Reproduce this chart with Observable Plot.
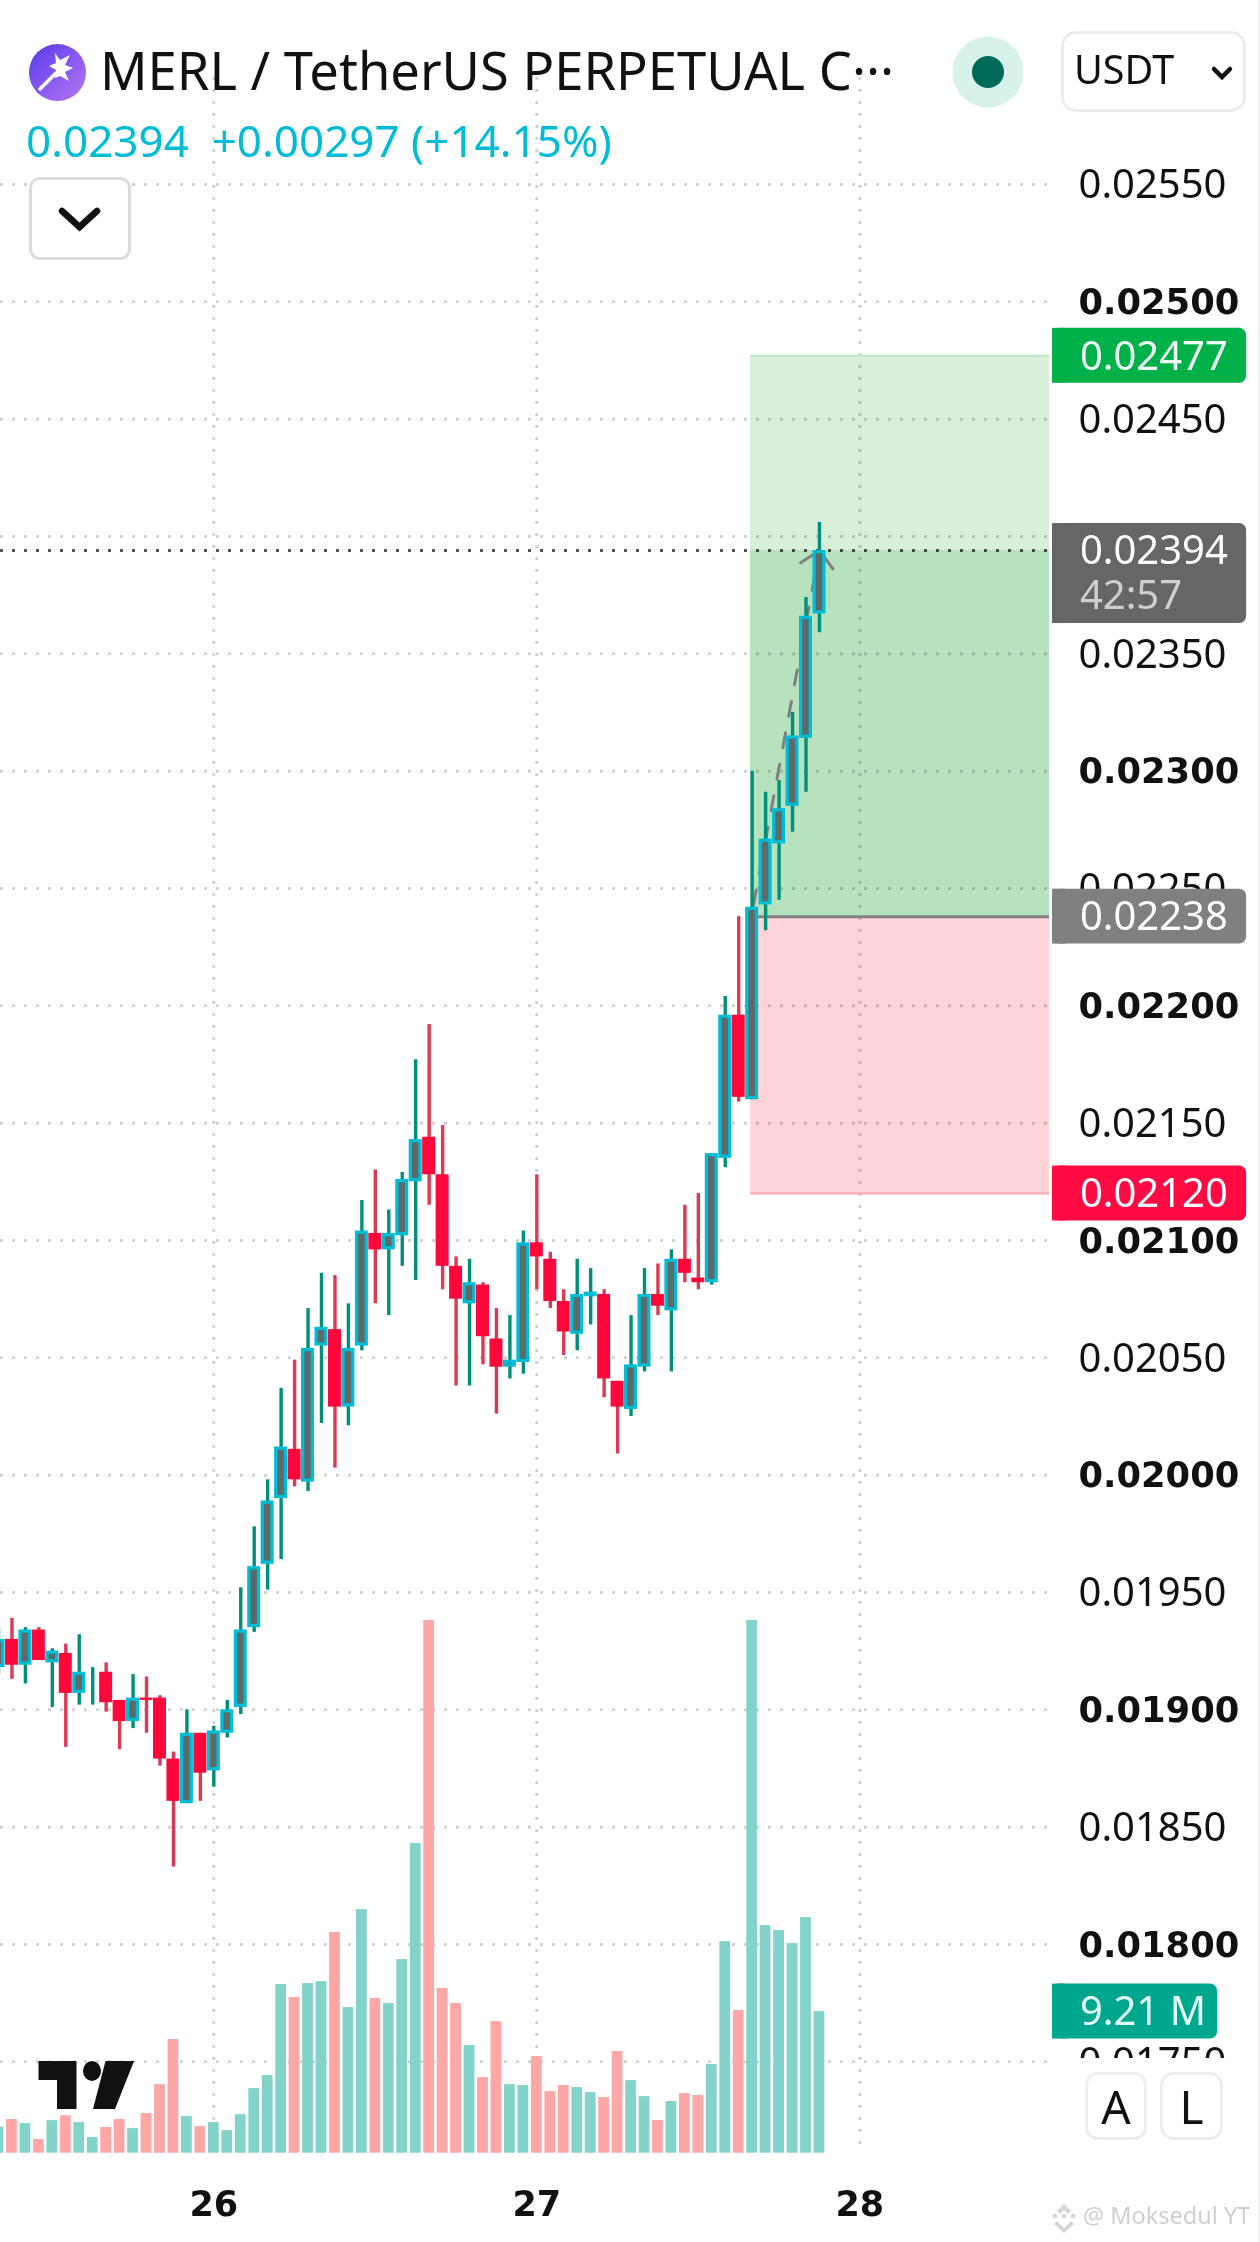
<!DOCTYPE html>
<html>
<head>
<meta charset="utf-8">
<script src="https://cdn.jsdelivr.net/npm/d3@7"></script>
<script src="https://cdn.jsdelivr.net/npm/@observablehq/plot@0.6"></script>
<style>
html,body{margin:0;padding:0;background:#fff}
#page{position:relative;width:1260px;height:2242px;overflow:hidden;font-family:"Noto Sans",sans-serif;color:#111}
#chart svg{display:block}
.box{position:absolute;background:#fff;box-sizing:border-box}
.t{position:absolute;white-space:pre;line-height:1}
</style>
</head>
<body>
<div id="page">
<div id="chart"></div>
<div class="box" style="left:1052px;top:2058px;width:206px;height:60px"></div>
<div style="position:absolute;right:0;top:0;width:2px;height:2242px;background:#f1f1f1"></div>

<svg class="box" style="left:27px;top:42px;background:none" width="62" height="62" viewBox="0 0 62 62">
<defs><linearGradient id="lg" x1="0.1" y1="0.1" x2="0.9" y2="0.9"><stop offset="0" stop-color="#5f3fe8"/><stop offset="1" stop-color="#ad72f5"/></linearGradient></defs>
<circle cx="30.5" cy="30.5" r="28.5" fill="url(#lg)"/>
<path d="M13 47 L29 31" stroke="#fff" stroke-width="3.5" stroke-linecap="round"/>
<path d="M28 11 L33 18 L43 13 L38 23 L46 26 L38 30 L42 39 L33 34 L28 36 L29 28 L22 24 L29 21 Z" fill="#fff"/>
</svg>
<div class="t" id="title" style="left:100px;top:44px;font-size:52.5px">MERL / TetherUS PERPETUAL C···</div>
<div class="t" id="quote" style="left:26px;top:118px;font-size:44px;color:#00bcd4">0.02394  +0.00297 (+14.15%)</div>

<div class="box" style="left:29px;top:177px;width:102px;height:83px;border:3.5px solid #dcdcdc;border-radius:11px"></div>
<svg class="box" style="left:55px;top:204px;background:none" width="50" height="30" viewBox="0 0 50 30"><path d="M7 7 L24.5 23 L42 7" fill="none" stroke="#111" stroke-width="6.5" stroke-linecap="round"/></svg>

<svg class="box" style="left:950px;top:34px;background:none" width="76" height="76" viewBox="0 0 76 76"><circle cx="38" cy="38" r="35.5" fill="#d6f2eb"/><circle cx="38" cy="38" r="16" fill="#00695a"/></svg>

<div class="box" style="left:1061px;top:31px;width:185px;height:81px;border:3.5px solid #ececec;border-radius:15px"></div>
<div class="t" style="left:1074px;top:50px;font-size:39.5px">USDT</div>
<svg class="box" style="left:1208px;top:62px;background:none" width="30" height="22" viewBox="0 0 30 22"><path d="M6 7 L14 15 L22 7" fill="none" stroke="#111" stroke-width="4.5" stroke-linecap="round"/></svg>

<div class="box" style="left:1085px;top:2072px;width:62px;height:68px;border:3px solid #eee;border-radius:13px"></div>
<div class="box" style="left:1160px;top:2072px;width:63px;height:68px;border:3px solid #eee;border-radius:13px"></div>
<div class="t" style="left:1085px;width:62px;text-align:center;top:2083px;font-size:46px">A</div>
<div class="t" style="left:1160px;width:63px;text-align:center;top:2083px;font-size:46px">L</div>

<svg class="box" style="left:38px;top:2061px;background:none" width="97" height="49" viewBox="0 0 97 49">
<path d="M0.5 0 H38.5 V48 H19 V19 H0.5 Z M67.5 0 H96 L77 48 H55 Z" fill="#111"/>
<ellipse cx="54" cy="10" rx="9" ry="10" fill="#111"/>
</svg>

<svg class="box" style="left:1048px;top:2202px;background:none" width="32" height="32" viewBox="0 0 32 32">
<path d="M16 2 L23 9 L20 12 L16 8 L12 12 L9 9 Z M7 11 L10 14 L7 17 L4 14 Z M25 11 L28 14 L25 17 L22 14 Z M16 11 L19 14 L16 17 L13 14 Z M9 19 L16 26 L23 19 L26 22 L16 31 L6 22 Z" fill="#d6d6d6"/></svg>
<div class="t" style="left:1083px;top:2204px;font-size:23.5px;color:#cfcfcf">@ Moksedul YT</div>
</div>

<script>
// candle hour offsets from the "26" day line
const firstHour = -16;
const opens = [0.01918,0.0193,0.01919,0.01934,0.0192,0.01924,0.01907,0.01914,0.01916,0.01904,0.01895,0.01905,0.01905,0.01879,0.0186,0.0189,
0.01874,0.0189,0.01901,0.01935,0.01962,0.0199,0.02011,0.01997,0.02055,0.02062,0.02029,0.02055,0.02103,0.02096,0.02102,0.02125,0.02144,0.02128,0.02089,0.02073,0.02081,0.02058,0.02046,0.02048,
0.02099,0.02092,0.02074,0.0206,0.02076,0.02077,0.0204,0.02028,0.02046,0.02077,0.0207,0.02092,0.02084,0.02082,0.02135,0.02196,0.0216,0.02243,0.02269,0.02285,0.02314,0.02367];
const highs = [0.01935,0.01939,0.01935,0.01935,0.01926,0.01928,0.01932,0.01918,0.0192,0.01904,0.01915,0.01914,0.01906,0.01882,0.019,0.0189,
0.01893,0.01904,0.01952,0.01978,0.01998,0.02037,0.02049,0.02071,0.02086,0.02085,0.02073,0.02117,0.0213,0.02113,0.02129,0.02177,0.02192,0.02149,0.02093,0.02092,0.02082,0.02071,0.02068,0.02104,
0.02128,0.02095,0.02079,0.02092,0.02088,0.02079,0.0204,0.02068,0.02088,0.0209,0.02096,0.02115,0.0212,0.02137,0.02204,0.02238,0.023,0.02291,0.02296,0.02325,0.02374,0.02406];
const lows = [0.01915,0.01913,0.01911,0.01921,0.01901,0.01884,0.01902,0.01902,0.01899,0.01883,0.01892,0.0189,0.01876,0.01833,0.0186,0.01861,
0.01867,0.01888,0.01898,0.01933,0.01951,0.01964,0.01995,0.01993,0.02022,0.02003,0.02021,0.02053,0.02073,0.02068,0.02089,0.02083,0.02115,0.02079,0.02038,0.02038,0.02047,0.02026,0.02041,0.02043,
0.02079,0.02071,0.02051,0.02053,0.02064,0.02033,0.02009,0.02025,0.02044,0.02068,0.02044,0.02082,0.02079,0.02081,0.02131,0.02159,0.0216,0.02232,0.02245,0.02274,0.02291,0.02359];
const closes = [0.0193,0.01919,0.01934,0.01921,0.01925,0.01907,0.01916,0.01915,0.01903,0.01895,0.01905,0.01904,0.01879,0.01861,0.0189,0.01873,
0.01891,0.019,0.01934,0.01961,0.01989,0.02012,0.01998,0.02054,0.02063,0.02029,0.02054,0.02104,0.02096,0.02103,0.02126,0.02143,0.02128,0.02089,0.02075,0.02082,0.02059,0.02046,0.02049,0.02099,
0.02093,0.02074,0.02061,0.02077,0.02078,0.02041,0.02029,0.02047,0.02077,0.02072,0.02092,0.02086,0.02082,0.02137,0.02196,0.02161,0.02242,0.02271,0.02284,0.02315,0.02366,0.02394];
// volume in millions
const volumes = [1.69,2.19,1.93,0.89,2.12,2.43,1.99,1.02,1.67,2.19,1.6,2.58,4.46,7.39,2.38,1.73,
1.99,1.47,2.51,4.2,5.05,10.97,10.12,11.03,11.16,14.35,9.47,15.84,10.06,9.73,12.59,20.14,34.64,10.71,9.73,7.0,4.92,8.56,4.46,4.4,
6.29,4.01,4.4,4.27,3.94,3.62,6.61,4.72,3.68,2.12,3.36,3.88,3.75,5.76,13.76,9.28,34.64,14.8,14.48,13.63,15.32,9.21];
const dayTicks = [0,24,48];
const dayLabels = ["26","27","28"];
const plainTicks = [0.0175,0.0185,0.0195,0.0205,0.0215,0.0225,0.0235,0.0245,0.0255];
const boldTicks = [0.018,0.019,0.02,0.021,0.022,0.023,0.024,0.025];
const takeProfit = 0.02477, entry = 0.02238, stopLoss = 0.0212, lastPrice = 0.02394;
const arrowHours = [40.1,45], arrowPrices = [0.02243,0.02394];
const barbLeftHours = [43.6,45], barbLeftPrices = [0.023888,0.02394];
const barbRightHours = [46,45], barbRightPrices = [0.023862,0.02394];

// layout of the scales
const xDomain = [-15.85,77.77], yDomain = [0.0262841,0.01673];
const zoneLeft = 39.88, zoneRight = 62.1, tagLeft = 62.32, tagRight = 76.74, volTagRight = 74.58, labelX = 64.35;
const tagHalf = 0.000117, halfBody = 0.483;
// volume lives in the bottom of the price pane
const volBase = 0.0171105, volUnit = 0.00006554;
const volY = v => volBase + v * volUnit;

const candles = opens.map((o,i) => ({hour: firstHour + i, open:o, high:highs[i], low:lows[i], close:closes[i], volume:volumes[i], up: closes[i] >= o}));
const ups = candles.filter(d => d.up), downs = candles.filter(d => !d.up);
const tags = [
 {y1:takeProfit-tagHalf,y2:takeProfit+tagHalf,fill:"#00b14a",x2:tagRight},
 {y1:0.023629,y2:0.024055,fill:"#666666",x2:tagRight},
 {y1:entry-tagHalf,y2:entry+tagHalf,fill:"#808080",x2:tagRight},
 {y1:stopLoss-tagHalf,y2:stopLoss+tagHalf,fill:"#ff0a43",x2:tagRight},
 {y1:volY(9.21)-tagHalf,y2:volY(9.21)+tagHalf,fill:"#00a78f",x2:volTagRight}
];
const tagTexts = [
 {y:takeProfit,text:"0.02477",fill:"#f1fff5"},
 {y:lastPrice,text:"0.02394",fill:"#ffffff"},
 {y:0.02375,text:"42:57",fill:"#cfcfcf"},
 {y:entry,text:"0.02238",fill:"#ffffff"},
 {y:stopLoss,text:"0.02120",fill:"#ffffff"},
 {y:volY(9.21),text:"9.21 M",fill:"#e6fffa"}
];
const F = '"Noto Sans",sans-serif', B = '"DejaVu Sans",sans-serif', S = 40;
const fmt = d3.format(".5f");
const gridOpts = {stroke:"#d2d2d2",strokeWidth:3,strokeDasharray:"3 9"};
const teal = "#008f7a", cyan = "#00bcd4", red = "#ff073a", redWick = "#dc3a52";

const chart = Plot.plot({
  width:1260,height:2242,margin:0,
  style:{background:"transparent"},
  x:{type:"linear",domain:xDomain,range:[0,1260]},
  y:{type:"linear",domain:yDomain,range:[0,2242]},
  marks:[
    Plot.ruleY([...plainTicks,...boldTicks],{x1:xDomain[0],x2:zoneRight,...gridOpts}),
    Plot.ruleX(dayTicks,{y1:0.025956,y2:volBase,...gridOpts}),
    Plot.ruleY([lastPrice],{x1:xDomain[0],x2:zoneRight,stroke:"#555",strokeWidth:3,strokeDasharray:"3 9"}),
    // position tool
    Plot.rect([{y1:lastPrice,y2:takeProfit}],{x1:zoneLeft,x2:zoneRight,y1:"y1",y2:"y2",fill:"#d8f0da",mixBlendMode:"multiply"}),
    Plot.rect([{y1:entry,y2:lastPrice}],{x1:zoneLeft,x2:zoneRight,y1:"y1",y2:"y2",fill:"#b6e2bd",mixBlendMode:"multiply"}),
    Plot.rect([{y1:stopLoss,y2:entry}],{x1:zoneLeft,x2:zoneRight,y1:"y1",y2:"y2",fill:"#ffd4d8",mixBlendMode:"multiply"}),
    Plot.ruleY([takeProfit],{x1:zoneLeft,x2:zoneRight,stroke:"#bfe5c6",strokeWidth:2}),
    Plot.ruleY([stopLoss],{x1:zoneLeft,x2:zoneRight,stroke:"#f9a8ae",strokeWidth:2}),
    Plot.ruleY([entry],{x1:zoneLeft,x2:zoneRight,stroke:"#808080",strokeWidth:3}),
    // volume
    Plot.rect(candles,{x1:d=>d.hour-0.4,x2:d=>d.hour+0.4,y1:volBase,y2:d=>volY(d.volume),fill:d=>d.up?"#82d4ca":"#ffa6a6"}),
    // projection arrow
    Plot.line(arrowHours.map((h,i)=>({h,p:arrowPrices[i]})),{x:"h",y:"p",stroke:"#7f7f7f",strokeWidth:3,strokeDasharray:"15 17"}),
    Plot.line(barbLeftHours.map((h,i)=>({h,p:barbLeftPrices[i]})),{x:"h",y:"p",stroke:"#7f7f7f",strokeWidth:3}),
    Plot.line(barbRightHours.map((h,i)=>({h,p:barbRightPrices[i]})),{x:"h",y:"p",stroke:"#7f7f7f",strokeWidth:3}),
    // candles
    Plot.ruleX(candles,{x:"hour",y1:"low",y2:"high",stroke:d=>d.up?teal:redWick,strokeWidth:3.4}),
    Plot.rect(downs,{x1:d=>d.hour-halfBody,x2:d=>d.hour+halfBody,y1:"open",y2:"close",fill:red}),
    Plot.rect(ups,{x1:d=>d.hour-halfBody,x2:d=>d.hour+halfBody,y1:"open",y2:"close",fill:"#5c6a6a",stroke:cyan,strokeWidth:3.3,inset:1.65}),
    // price axis
    Plot.axisY(plainTicks,{anchor:"right",tickSize:0,tickPadding:0,dx:-182,dy:1,textAnchor:"start",tickFormat:fmt,label:null,fontSize:S,fontFamily:F,fill:"#111"}),
    Plot.axisY(boldTicks,{anchor:"right",tickSize:0,tickPadding:0,dx:-182,dy:1,textAnchor:"start",tickFormat:fmt,label:null,fontSize:35.3,fontFamily:B,fontWeight:"bold",fill:"#111"}),
    // day axis
    Plot.axisX(dayTicks,{anchor:"bottom",tickSize:0,tickPadding:0,dy:-51,tickFormat:d=>dayLabels[dayTicks.indexOf(d)],label:null,fontSize:35,fontFamily:B,fontWeight:"bold",fill:"#111"}),
    // price tags
    Plot.rect(tags,{x1:tagLeft,x2:"x2",y1:"y1",y2:"y2",fill:d=>d.fill,rx:7}),
    Plot.rect(tags,{x1:tagLeft,x2:tagLeft+1,y1:"y1",y2:"y2",fill:d=>d.fill}),
    Plot.text(tagTexts,{x:labelX,y:"y",text:"text",fill:d=>d.fill,textAnchor:"start",fontSize:S,fontFamily:F,dy:1})
  ]
});
document.getElementById("chart").appendChild(chart);
</script>
</body>
</html>
